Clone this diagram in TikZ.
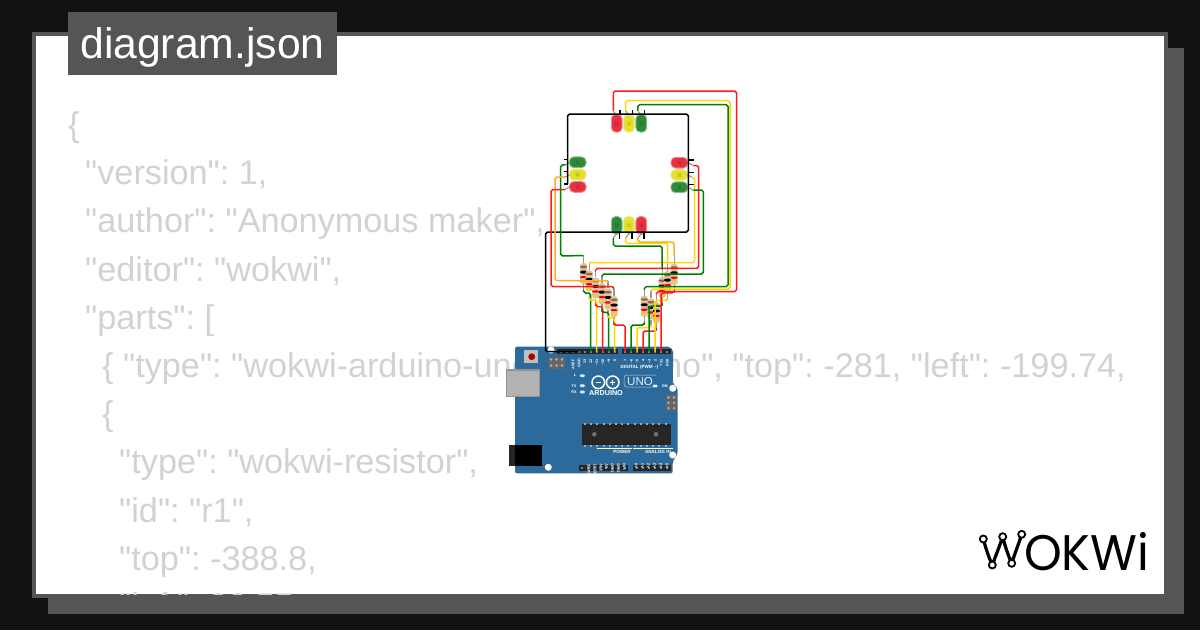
\documentclass[tikz,border=0pt]{standalone}
\usepackage{fontspec}
\setmainfont{Liberation Sans}
\newfontfamily\codefont{Liberation Sans}
\newfontfamily\logofont[FakeStretch=0.96]{Poppins}
\usetikzlibrary{positioning}

\definecolor{pagedark}{HTML}{111111}
\definecolor{cardgray}{HTML}{555555}
\definecolor{codegray}{HTML}{D2D2D2}
\definecolor{boardblue}{HTML}{2B6A9A}
\definecolor{restan}{HTML}{DCC3A3}
\definecolor{ledred}{HTML}{E5323E}
\definecolor{ledyellow}{HTML}{E4E02E}
\definecolor{ledgreen}{HTML}{2F8A38}
\definecolor{wireyel}{HTML}{FFD500}
\definecolor{wireora}{HTML}{FFB020}

\tikzset{
  codeline/.style={anchor=base west,inner sep=0pt,text=codegray,font=\frenchspacing\codefont\fontsize{34.25}{38}\selectfont},
  wire/.style={line width=1.5pt,rounded corners=1.8pt},
  wirered/.style={wire,draw=red!90!white},
  wireyellow/.style={wire,draw=wireyel},
  wireorange/.style={wire,draw=wireora},
  wiregreen/.style={wire,draw=green!50!black},
  wireblack/.style={wire,draw=black},
  leadgray/.style={line width=1.1pt,draw=gray!80},
  leadblack/.style={line width=1.5pt,draw=black},
  res/.style={rectangle,rounded corners=2.5pt,minimum width=7pt,minimum height=21pt,inner sep=0pt,fill=restan,
    path picture={
      \fill[brown!80!black] ([shift={(-4,-8)}]path picture bounding box.center) rectangle ++(8,2.4);
      \fill[black] ([shift={(-4,-3)}]path picture bounding box.center) rectangle ++(8,2.8);
      \fill[red] ([shift={(-4,2.3)}]path picture bounding box.center) rectangle ++(8,2.2);
      \fill[yellow!70!orange] ([shift={(-4,7)}]path picture bounding box.center) rectangle ++(8,1.6);
    }},
  ledv/.style={rectangle,rounded corners=4.5pt,minimum width=10.8pt,minimum height=17.7pt,inner sep=0pt,line width=.9pt,
    fill=#1,draw=#1!55!white,
    path picture={\fill[#1!88!black] ([shift={(-1.5,-1.5)}]path picture bounding box.center) rectangle ++(3,3);}},
  ledh/.style={rectangle,rounded corners=4.5pt,minimum width=16.7pt,minimum height=10.8pt,inner sep=0pt,line width=.9pt,
    fill=#1,draw=#1!55!white,
    path picture={\fill[#1!88!black] ([shift={(-1.5,-1.5)}]path picture bounding box.center) rectangle ++(3,3);}},
  hole/.style={circle,fill=white,minimum size=7pt,inner sep=0pt},
  tinytext/.style={inner sep=0pt,text=white,font=\bfseries\fontsize{3.8}{4}\selectfont},
  ticktext/.style={tinytext,rotate=90},
  smallled/.style={rectangle,rounded corners=1pt,fill=white!85!boardblue,minimum width=5pt,minimum height=2.6pt,inner sep=0pt},
}

\newcommand{\ledpins}[9]{%
  \coordinate (#1a) at ([shift={(#2,#3)}]#1.center);
  \coordinate (#1p) at ([shift={(#4,#5)}]#1.center);
  \coordinate (#1c) at ([shift={(#6,#7)}]#1.center);
  \coordinate (#1d) at ([shift={(#8,#9)}]#1.center);
  \draw[leadgray] (#1a) -- (#1p);
  \draw[leadblack] (#1c) -- (#1d);
}

\begin{document}
\begin{tikzpicture}[x=1pt,y=-1pt,node distance=12.3pt,on grid]
    \useasboundingbox (0,0) rectangle (1200,630);
    \fill[pagedark] (0,0) rectangle (1200,630);
    \fill[cardgray] (48,48) rectangle (1184,614);
    \fill[cardgray] (32,32) rectangle (1168,598);
    \fill[white] (36,36) rectangle (1164,594);

    \begin{scope}
        \clip (36,36) rectangle (1164,594);
        \node[codeline] (code_0) at (68,136.5) {\{};
        \node[codeline] (code_1) at (85,184.7) {"version": 1,};
        \node[codeline] (code_2) at (85,232.9) {"author": "Anonymous maker",};
        \node[codeline] (code_3) at (85,281.1) {"editor": "wokwi",};
        \node[codeline] (code_4) at (85,329.3) {"parts": [};
        \node[codeline] (code_5) at (102,377.5) {\{ "type": "wokwi-arduino-uno", "id": "uno", "top": -281, "left": -199.74,};
        \node[codeline] (code_6) at (102,425.7) {\{};
        \node[codeline] (code_7) at (119,473.9) {"type": "wokwi-resistor",};
        \node[codeline] (code_8) at (119,522.1) {"id": "r1",};
        \node[codeline] (code_9) at (119,570.3) {"top": -388.8,};
        \node[codeline] (code_10) at (119,617) {"left": 66.55,};
    \end{scope}

    \fill[cardgray] (68,12) rectangle (336.7,74.7);
    \node[anchor=base,inner sep=0pt,text=white,font=\fontsize{42.7}{48}\selectfont] (title) at (202.5,58) {diagram.json};

    % board
    \fill[boardblue,rounded corners=2pt] (515,346.7) -- (670,346.7) -- (673.3,351) -- (672.7,383.3) -- (677.7,388.3)
        -- (677.7,453.3) -- (672.7,461.7) -- (672.7,473.3) -- (515,473.3) -- cycle;
    \node[hole] (hole_0) at (551,350) {};
    \node[hole] (hole_1) at (672.7,388.3) {};
    \node[hole] (hole_2) at (672.7,455) {};
    \node[hole] (hole_3) at (548.3,467.3) {};

    \fill[gray!85] (505.7,369) rectangle (540,397.3);
    \fill[gray!60] (507,370.5) rectangle (538.5,395.8);
    \fill[black!85] (509,445) rectangle (515,466);
    \fill[black] (515,445) rectangle (542.3,466);
    \fill[gray!50] (524,350) rectangle (538.3,363.3);
    \fill[red!70!black] (531.7,356.7) circle (3.4);

    \fill[black!85] (556.7,349.3) rectangle (618.3,354.3);
    \fill[black!85] (621.7,349.3) rectangle (670.7,354.3);
    \fill[black!85] (579,465) rectangle (628.3,470.7);
    \fill[black!85] (633.3,465) rectangle (670.7,470.7);
    \foreach \i in {0,...,9} {
        \coordinate (pin_\i) at ({560.7+6*\i},351.5);
        \fill[gray] ({559.7+6*\i},350.8) rectangle ++(2,2);
    }
    \foreach \i in {0,...,7} {
        \coordinate (dig_\i) at ({625.2+6*\i},351.5);
        \fill[gray] ({624.2+6*\i},350.8) rectangle ++(2,2);
    }
    \foreach \i in {0,...,7} \fill[gray] ({581+6.1*\i},467) rectangle ++(2,2);
    \foreach \i in {0,...,5} \fill[gray] ({635.5+6.1*\i},467) rectangle ++(2,2);

    \fill[black!60] (549,357) rectangle (565,369);
    \fill[black!60] (665.7,395) rectangle (676.7,410.7);
    \foreach \i in {0,1,2} {
        \foreach \j in {0,1} {
            \fill[gray!60] ({551+5.5*\i},{359.5+6*\j}) circle (1.3);
            \fill[gray!60] ({668.5+5.5*\j},{397.5+5.3*\i}) circle (1.3);
        }
    }

    \fill[black!85] (581.7,424) rectangle (670.7,445.3);
    \foreach \i in {0,...,13} {
        \fill[gray!70] ({584+6.2*\i},423) rectangle ++(2,1.5);
        \fill[gray!70] ({584+6.2*\i},445) rectangle ++(2,1.5);
    }
    \fill[black!55] (594.3,434.3) circle (2.2);
    \fill[black!55] (656,434.3) circle (2.2);

    \draw[white,line width=1.5pt] (598.3,382.3) circle (6.3);
    \draw[white,line width=1.5pt] (612.7,382.3) circle (6.3);
    \draw[white,line width=1pt] (595.5,382.3) -- (601,382.3);
    \draw[white,line width=1pt] (610,382.3) -- (615.4,382.3) (612.7,379.6) -- (612.7,385);
    \draw[white!70!boardblue,line width=.5pt,rounded corners=3pt] (656,375) -- (624,375) -- (624,387) -- (652,387);
    \node[inner sep=0pt,text=white!90!boardblue,font=\fontsize{11.5}{12}\selectfont] (uno) at (640,381.3) {UNO};
    \node[inner sep=0pt,text=white,font=\bfseries\fontsize{7.2}{8}\selectfont] (arduino) at (606,392.6) {ARDUINO};
    \node[tinytext,font=\bfseries\fontsize{4.6}{5}\selectfont] (digital) at (639.5,367.3) {DIGITAL (PWM \textasciitilde)};
    \node[tinytext,font=\bfseries\fontsize{4.6}{5}\selectfont] (power) at (622,452.3) {POWER};
    \node[tinytext,font=\bfseries\fontsize{4.6}{5}\selectfont] (analog) at (658,452.3) {ANALOG IN};
    \draw[white,line width=.4pt] (596.7,448.3) -- (631.7,448.3) (633.3,448.3) -- (673,448.3);
    \node[tinytext] (lab_l) at (575,375.2) {L};
    \node[tinytext] (lab_tx) at (574,385.7) {TX};
    \node[tinytext] (lab_rx) at (574,392.3) {RX};
    \node[tinytext] (lab_on) at (664.7,386) {ON};
    \node[smallled] (ind_l) at (582.3,375.7) {};
    \node[smallled] (ind_tx) at (582.3,385.7) {};
    \node[smallled] (ind_rx) at (582.3,392) {};
    \node[smallled] (ind_on) at (655,386) {};
    \foreach \x/\t [count=\i] in {573/AREF,579/GND,584.7/13,590.7/12,596.7/{\textasciitilde11},602.7/{\textasciitilde10},608.7/{\textasciitilde9},614.7/8,
        625.2/7,631.2/{\textasciitilde6},637.2/{\textasciitilde5},643.2/4,649.2/{\textasciitilde3},655.2/2,661.2/TX1,667.2/RX0}
        \node[ticktext,anchor=east] (toplab_\i) at (\x,359) {\t};
    \foreach \x/\t [count=\i] in {589/IOREF,595/RESET,601/3.3V,606.7/5V,612.3/GND,618.3/GND,624.3/VIN,
        636/A0,642.2/A1,648.4/A2,654.6/A3,660.8/A4,667/A5}
        \node[ticktext,anchor=east] (botlab_\i) at (\x,463.5) {\t};

    % resistors
    \node[res] (res_0) at (583.7,273.7) {};
    \node[res] (res_1) [below right=7.1pt and 5.5pt of res_0] {};
    \node[res] (res_2) [below right=7.2pt and 6.5pt of res_1] {};
    \node[res] (res_3) [below right=5.7pt and 6.3pt of res_2] {};
    \node[res] (res_4) [below right=5.3pt and 6pt of res_3] {};
    \node[res] (res_5) [below right=7.7pt and 6pt of res_4] {};
    \node[res] (res_6) at (644.3,306.3) {};
    \node[res] (res_7) [below right=2.7pt and 6.7pt of res_6] {};
    \node[res] (res_8) [below right=3.5pt and 5.3pt of res_7] {};
    \node[res] (res_9) at (662.2,287.5) {};
    \node[res] (res_10) [above right=5.8pt and 5.5pt of res_9] {};
    \node[res] (res_11) [above right=7.4pt and 6.4pt of res_10] {};
    \foreach \r in {res_0,res_1,res_2,res_3,res_4,res_5,res_6,res_7,res_8,res_9,res_10,res_11} {
        \coordinate (\r t) at ([yshift=7.5pt]\r.north);
        \coordinate (\r b) at ([yshift=-7.5pt]\r.south);
        \draw[leadgray] (\r t) -- (\r.north);
        \draw[leadgray] (\r b) -- (\r.south);
    }

    % leds
    \node[ledv=ledred] (t_0) at (616.7,123.3) {};
    \node[ledv=ledyellow] (t_1) [right=of t_0] {};
    \node[ledv=ledgreen] (t_2) [right=of t_1] {};
    \node[ledh=ledgreen] (l_0) at (577.7,162.3) {};
    \node[ledh=ledyellow] (l_1) [below=of l_0] {};
    \node[ledh=ledred] (l_2) [below=of l_1] {};
    \node[ledh=ledred] (r_0) at (679.3,162.7) {};
    \node[ledh=ledyellow] (r_1) [below=of r_0] {};
    \node[ledh=ledgreen] (r_2) [below=of r_1] {};
    \node[ledv=ledgreen] (b_0) at (616.7,225.3) {};
    \node[ledv=ledyellow] (b_1) [right=of b_0] {};
    \node[ledv=ledred] (b_2) [right=of b_1] {};
    \foreach \n in {t_0,t_1,t_2} {\ledpins{\n}{-3.4}{-12.6}{-0.7}{-8.3}{3.3}{-13}{3.3}{-9.3}}
    \foreach \n in {l_0,l_1,l_2} {\ledpins{\n}{-12.7}{2.6}{-8.2}{0}{-13.5}{-3}{-10}{-3}}
    \foreach \n in {r_0,r_1,r_2} {\ledpins{\n}{14}{2.8}{8.2}{0}{14.5}{-2.7}{9}{-2.7}}
    \foreach \n in {b_0,b_1,b_2} {\ledpins{\n}{-3.4}{12.6}{0.6}{7.6}{2.8}{13.5}{2.8}{6.7}}

    % wires
    \draw[wireblack] (l_2d) -- (l_0d) |- (t_0d) -- (t_2d) -| (r_0d) -- (r_2d) |- (b_2d) -- (b_0d) -| (545.7,351.7) -- (pin_3);

    \draw[wirered] (t_0a) |- (736.5,91) -- (736.5,291.7) -| (res_8t);
    \draw[wiregreen] (t_2a) |- (728,104.7) -- (728,286.7) -| (res_6t);
    \draw[wireyellow] (t_1a) |- (730,100.7) -- (730,289) -| (res_7t);

    \draw[wiregreen] (l_0a) -| (560.7,256) -- (res_0t);
    \draw[wireorange] (l_1a) -| (555,280.7) -- (res_4t);
    \draw[wirered] (l_2a) -| (551,286.7) -| (res_5t);

    \draw[wirered] (r_0a) -| (698.7,268.3) -| (res_2t);
    \draw[wireyellow] (r_1a) -| (694.7,262.5) -- (res_1t);
    \draw[wiregreen] (r_2a) -| (703.3,274) -| (res_3t);

    \draw[wiregreen] (b_0a) |- (res_9t |- 0,246) -- (res_9t);
    \draw[wireyellow] (b_1a) |- (res_10t |- 0,243.3) -- (res_10t);
    \draw[wireorange] (b_2a) |- (res_11t |- 0,242) -- (res_11t);

    \foreach \r/\p/\y/\c in {res_0/pin_5/293/wiregreen,res_1/pin_6/300/wireyellow,res_2/pin_7/306.5/wirered,
        res_3/pin_8/312.3/wiregreen,res_4/pin_9/318/wireyellow,res_5/dig_0/325/wirered,
        res_6/dig_1/325/wiregreen,res_7/dig_2/327.5/wireyellow,res_8/dig_3/331/wirered,
        res_9/dig_4/306/wiregreen,res_10/dig_5/300.3/wireyellow,res_11/dig_6/292.8/wirered}
        \draw[\c] (\r b) |- (\p |- 0,\y) -- (\p);

    % logo
    \draw[line width=3.2pt,line cap=round,line join=round] (983.3,539) .. controls (986,549) and (989,558) .. (992.3,565)
        .. controls (996,555) and (1000,545) .. (1002.7,536.7)
        .. controls (1005,546) and (1008,555) .. (1011.7,563.3)
        .. controls (1015,553) and (1019,543) .. (1021.7,534.3);
    \foreach \x/\y [count=\i] in {983.3/539,1002.7/536.7,1021.7/534.3,992.3/565,1011.7/563.3}
        \node[circle,draw=black,fill=white,line width=1.8pt,minimum size=7pt,inner sep=0pt] (ring_\i) at (\x,\y) {};
    \node[anchor=base west,inner sep=0pt,text=black,font=\logofont\fontsize{50}{56}\selectfont] (logo) at (1024,570) {OKWi};
\end{tikzpicture}
\end{document}
